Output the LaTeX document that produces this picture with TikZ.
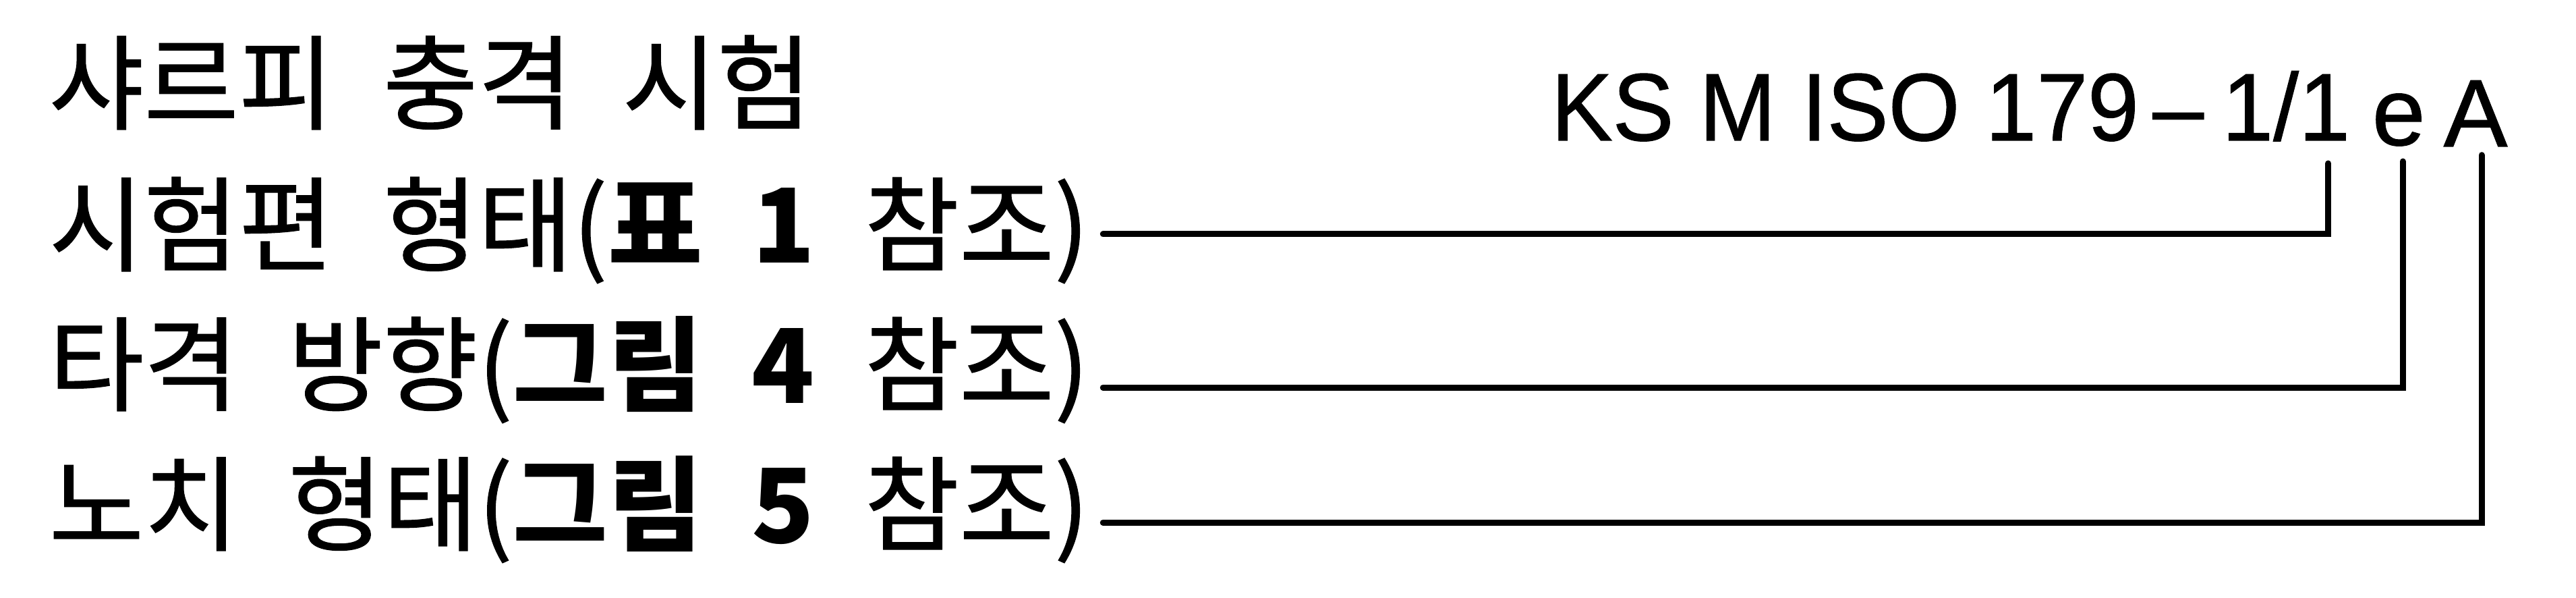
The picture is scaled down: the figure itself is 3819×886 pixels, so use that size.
\documentclass[tikz,border=0pt]{standalone}
\usepackage{fontspec}
\setmainfont{Liberation Sans}[UprightFeatures={FakeBold=0.8}]
\newfontfamily\kr{Noto Sans CJK KR}[UprightFeatures={FakeBold=0.8}]
\newcommand\kg{\hspace{0.48em}}
\begin{document}
\begin{tikzpicture}[x=0.1mm,y=-0.1mm,
  conn/.style={line width=0.9mm, line cap=round},
  kor/.style={anchor=base west, inner sep=0pt, font=\kr\fontsize{43.5pt}{52pt}\selectfont},
  lat/.style={anchor=base west, inner sep=0pt, font=\fontsize{40.4pt}{48pt}\selectfont}]
\useasboundingbox[fill=white] (0,0) rectangle (3819,886);
% left labels
\node[kor] (r1) at (72,180) {샤르피\kg 충격\kg 시험};
\node[kor] (r2) at (72,390) {시험편\kg 형태({\bfseries 표\kg 1}\kg 참조)};
\node[kor] (r3) at (72,597) {타격\kg 방향({\bfseries 그림\kg 4}\kg 참조)};
\node[kor] (r4) at (72,804) {노치\kg 형태({\bfseries 그림\kg 5}\kg 참조)};
% designation
\node[lat] (code) at (2299,208) {\scalebox{0.96}[1]{KS M ISO 179\hspace{0.15em}–\hspace{0.2em}1/1}};
\node[lat] (e) at (3516,215) {e};
\node[lat] (A) at (3622,217) {A};
% connectors
\coordinate (k1) at ([xshift=-3.3mm,yshift=-3.2mm]code.south east);
\coordinate (k2) at ([xshift=0.6mm,yshift=-2.2mm]e.south);
\coordinate (k3) at ([xshift=0.9mm,yshift=-1.2mm]A.south);
\draw[conn] ([xshift=2.0mm,yshift=4.3mm]r2.base east) -| (k1);
\draw[conn] ([xshift=2.0mm,yshift=2.3mm]r3.base east) -| (k2);
\draw[conn] ([xshift=2.0mm,yshift=3.0mm]r4.base east) -| (k3);
\end{tikzpicture}
\end{document}
